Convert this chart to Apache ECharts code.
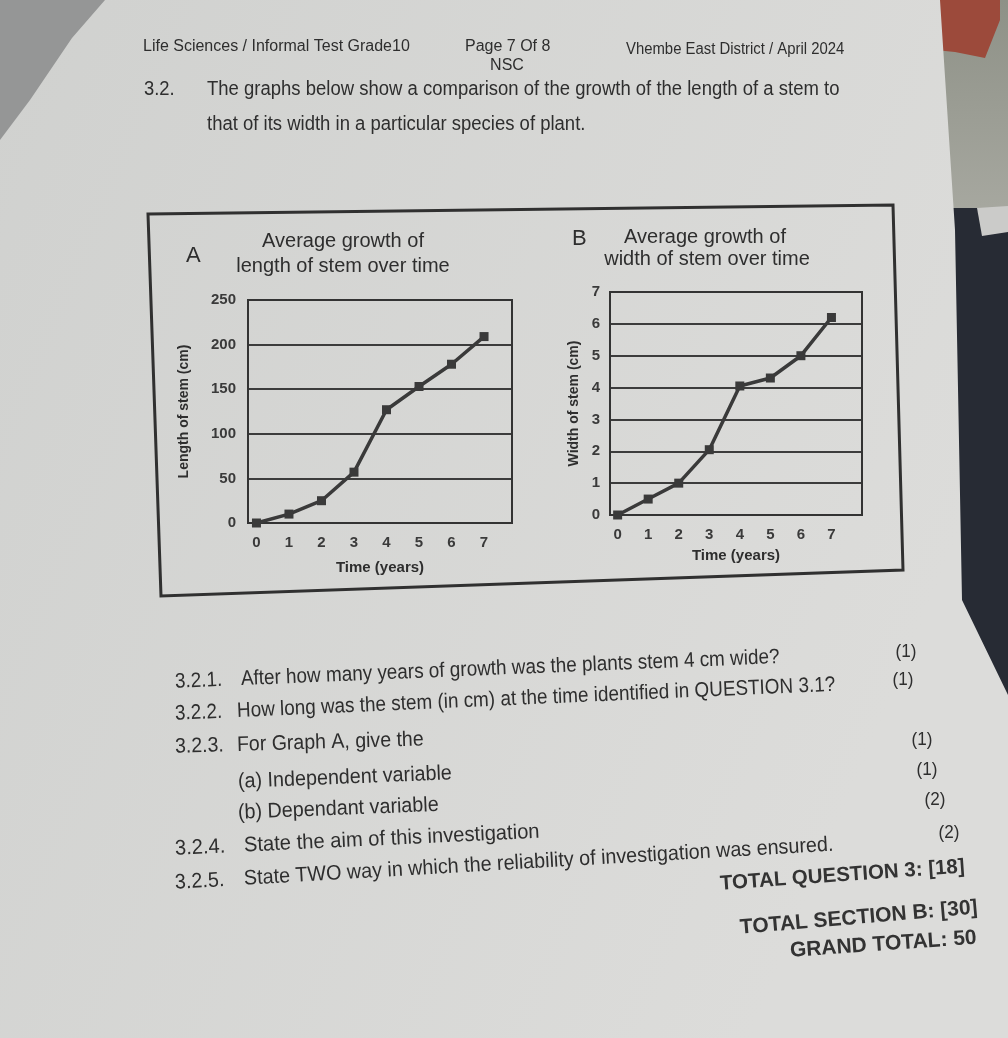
<!DOCTYPE html>
<html>
<head>
<meta charset="utf-8">
<script src="https://cdn.jsdelivr.net/npm/echarts@6/dist/echarts.min.js"></script>
<style>
html,body{margin:0;padding:0;background:#2a2e37;}
#main{width:1008px;height:1038px;}
</style>
</head>
<body>
<div id="main"></div>
<script>
// ---- data ----
const years = [0, 1, 2, 3, 4, 5, 6, 7];
const lengthCm = [0, 10, 25, 57, 127, 153, 178, 209];
const widthCm = [0, 0.5, 1.0, 2.05, 4.05, 4.3, 5.0, 6.2];
const lengthTicks = [0, 50, 100, 150, 200, 250];
const widthTicks = [0, 1, 2, 3, 4, 5, 6, 7];

const FONT = '"Liberation Sans", Arial, sans-serif';
const INK = '#2e2e2e';

const chart = echarts.init(document.getElementById('main'), null, {renderer: 'canvas'});

function pairs(xs, ys) { return xs.map((x, i) => [x, ys[i]]); }

function xAxisCfg(gridIndex, min, max, margin, nameGap) {
  return {
    type: 'value', gridIndex, min, max,
    name: 'Time (years)', nameLocation: 'middle', nameGap,
    nameTextStyle: {fontFamily: FONT, fontSize: 15, fontWeight: 'bold', color: INK},
    axisLine: {show: true, lineStyle: {color: '#555', width: 2}},
    axisTick: {show: false},
    splitLine: {show: false},
    axisLabel: {customValues: years, margin, fontFamily: FONT, fontSize: 15, fontWeight: 'bold', color: '#3a3a3a'}
  };
}
function yAxisCfg(gridIndex, max, interval, name, margin, nameGap) {
  return {
    type: 'value', gridIndex, min: 0, max, interval,
    name, nameLocation: 'middle', nameGap,
    nameTextStyle: {fontFamily: FONT, fontSize: 14, fontWeight: 'bold', color: INK},
    axisLine: {show: false}, axisTick: {show: false},
    splitLine: {show: true, lineStyle: {color: '#3c3c3c', width: 2}},
    axisLabel: {margin, fontFamily: FONT, fontSize: 15, fontWeight: 'bold', color: '#3a3a3a'}
  };
}
function lineSeries(idx, data) {
  return {
    type: 'line', xAxisIndex: idx, yAxisIndex: idx, data,
    symbol: 'rect', symbolSize: 9, showSymbol: true,
    lineStyle: {color: '#3a3a3a', width: 3.5},
    itemStyle: {color: '#3a3a3a'},
    z: 5
  };
}

function txt(x, y, text, opt) {
  opt = opt || {};
  return {
    type: 'text', x, y, rotation: opt.rot || 0, scaleX: opt.sx || 1, z: 10,
    style: {
      text, fill: opt.fill || INK,
      font: (opt.weight || 'normal') + ' ' + (opt.size || 17) + 'px ' + FONT,
      textAlign: opt.align || 'left', textVerticalAlign: 'middle'
    }
  };
}
// question line: number at x=175, text at textX, both on the same sloped baseline
function qline(y0, num, text, rot, textX, sx) {
  const numX = 175;
  const yT = y0 - (textX - numX) * Math.tan(rot);
  return [
    txt(numX, y0, num, {size: 21, sx: sx, rot}),
    txt(textX, yT, text, {size: 21, sx: sx, rot})
  ];
}

const graphics = [
  // background shapes outside the sheet
  {type: 'rect', z: -20, shape: {x: 930, y: 0, width: 78, height: 215},
   style: {fill: {type: 'linear', x: 0, y: 0, x2: 0, y2: 1, colorStops: [{offset: 0, color: '#8e9187'}, {offset: 1, color: '#a7a8a0'}]}}},
  {type: 'polygon', z: -19, shape: {points: [[935,0],[1000,0],[1000,20],[985,58],[955,52],[935,50]]}, style: {fill: '#9c4a3b'}},
  {type: 'rect', z: -19, shape: {x: 930, y: 208, width: 78, height: 830}, style: {fill: '#272b34'}},
  {type: 'polygon', z: -18, shape: {points: [[977,208],[1008,206],[1008,232],[982,236]]}, style: {fill: '#cbcbc9'}},
  // paper sheet
  {type: 'polygon', z: -10, shape: {points: [[0,0],[940,0],[955,230],[962,600],[1008,695],[1008,1038],[0,1038]]},
   style: {fill: {type: 'linear', x: 0, y: 0, x2: 1, y2: 0.4, colorStops: [{offset: 0, color: '#d0d1cf'}, {offset: 1, color: '#dcdcda'}]}}},
  // curled top-left corner shading
  {type: 'polygon', z: -9, shape: {points: [[0,0],[105,0],[72,38],[30,100],[0,140]]}, style: {fill: '#959696'}},
  // box around both graphs
  {type: 'polygon', z: 1, shape: {points: [[148,214],[893,205],[903,570],[161,596]]},
   style: {fill: 'none', stroke: '#303030', lineWidth: 3}},

  // header
  txt(143, 47, 'Life Sciences / Informal Test Grade10', {size: 16}),
  txt(465, 47, 'Page 7 Of 8', {size: 16}),
  txt(507, 66, 'NSC', {size: 16, align: 'center'}),
  txt(626, 50, 'Vhembe East District / April 2024', {size: 16, sx: 0.93}),
  txt(144, 89, '3.2.', {size: 20, sx: 0.92}),
  txt(207, 89, 'The graphs below show a comparison of the growth of the length of a stem to', {size: 20, sx: 0.925}),
  txt(207, 124, 'that of its width in a particular species of plant.', {size: 20, sx: 0.925}),

  // chart titles
  txt(186, 256, 'A', {size: 22}),
  txt(343, 241, 'Average growth of', {size: 20, align: 'center'}),
  txt(343, 266, 'length of stem over time', {size: 20, align: 'center'}),
  txt(572, 239, 'B', {size: 22}),
  txt(705, 237, 'Average growth of', {size: 20, align: 'center'}),
  txt(707, 259, 'width of stem over time', {size: 20, align: 'center'}),

  // questions
  ...qline(682, '3.2.1.', 'After how many years of growth was the plants stem 4 cm wide?', 0.041, 241, 0.9),
  ...qline(714, '3.2.2.', 'How long was the stem (in cm) at the time identified in QUESTION 3.1?', 0.044, 237, 0.9),
  ...qline(747, '3.2.3.', 'For Graph A, give the', 0.03, 237, 0.93),
  txt(238, 782, '(a) Independent variable', {size: 21, sx: 0.94, rot: 0.04}),
  txt(238, 813, '(b) Dependant variable', {size: 21, sx: 0.94, rot: 0.04}),
  ...qline(849, '3.2.4.', 'State the aim of this investigation', 0.047, 244, 0.96),
  ...qline(883, '3.2.5.', 'State TWO way in which the reliability of investigation was ensured.', 0.058, 244, 0.94),

  txt(906, 652, '(1)', {size: 18, sx: 0.95, align: 'center'}),
  txt(903, 680, '(1)', {size: 18, sx: 0.95, align: 'center'}),
  txt(922, 740, '(1)', {size: 18, sx: 0.95, align: 'center'}),
  txt(927, 770, '(1)', {size: 18, sx: 0.95, align: 'center'}),
  txt(935, 800, '(2)', {size: 18, sx: 0.95, align: 'center'}),
  txt(949, 833, '(2)', {size: 18, sx: 0.95, align: 'center'}),

  txt(720, 884, 'TOTAL QUESTION 3: [18]', {size: 20.5, weight: 'bold', rot: 0.07, fill: '#333'}),
  txt(740, 928, 'TOTAL SECTION B: [30]', {size: 21, weight: 'bold', rot: 0.085, fill: '#333'}),
  txt(790, 951, 'GRAND TOTAL: 50', {size: 21, weight: 'bold', rot: 0.07, fill: '#333'})
];

const option = {
  backgroundColor: 'transparent',
  animation: false,
  graphic: {elements: graphics},
  grid: [
    {left: 248, top: 300, width: 264, height: 223, show: true, borderColor: '#333', borderWidth: 2, backgroundColor: 'transparent', z: 2},
    {left: 610, top: 292, width: 252, height: 223, show: true, borderColor: '#333', borderWidth: 2, backgroundColor: 'transparent', z: 2}
  ],
  xAxis: [
    xAxisCfg(0, -0.26, 7.86, 12, 37),
    xAxisCfg(1, -0.25, 8.0, 12, 33)
  ],
  yAxis: [
    yAxisCfg(0, 250, 50, 'Length of stem (cm)', 12, 57),
    yAxisCfg(1, 7, 1, 'Width of stem (cm)', 10, 29)
  ],
  series: [
    lineSeries(0, pairs(years, lengthCm)),
    lineSeries(1, pairs(years, widthCm))
  ]
};
chart.setOption(option);
</script>
</body>
</html>
